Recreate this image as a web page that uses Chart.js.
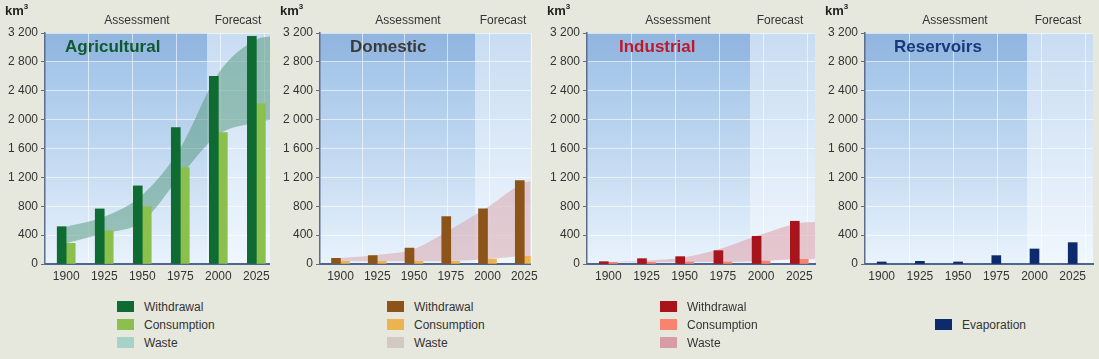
<!DOCTYPE html>
<html><head><meta charset="utf-8">
<script src="https://cdn.jsdelivr.net/npm/chart.js@4.4.1/dist/chart.umd.min.js"></script>
<style>
html,body{margin:0;padding:0;background:#e7e8dd;width:1099px;height:359px;overflow:hidden;font-family:"Liberation Sans",Arial,sans-serif;}
canvas{position:absolute;top:0;}
.t{position:absolute;white-space:nowrap;color:#333;font-size:12px;line-height:14px;}
.km{font-weight:bold;font-size:13px;color:#222;}
.km sup{font-size:8px;vertical-align:6px;line-height:0;}
.ttl{font-weight:bold;font-size:17px;line-height:20px;}
.lg{position:absolute;white-space:nowrap;font-size:12px;color:#333;line-height:14px;}
.lg i{position:absolute;left:0;top:1px;width:17px;height:11px;}
.lg span{position:absolute;left:27px;top:0;}
</style></head><body>
<script>
// ---------- data ----------
const years = ['1900', '1925', '1950', '1975', '2000', '2025'];
const yTickValues = [0, 400, 800, 1200, 1600, 2000, 2400, 2800, 3200];

const agriWithdrawal  = [517, 763, 1082, 1891, 2599, 3154];
const agriConsumption = [286, 462, 795, 1336, 1822, 2219];
// waste band: values at each year, last value at the right edge of the plot
const agriWasteTop    = [517, 656, 957, 1605, 2640, 3110, 3150];
const agriWasteBottom = [286, 425, 587, 1211, 1789, 1960, 2000];

const domWithdrawal  = [79, 116, 222, 656, 763, 1156];
const domConsumption = [37, 37, 37, 37, 65, 106];
const domWasteTop    = [83, 125, 208, 481, 786, 1130, 1150];
const domWasteBottom = [37, 37, 37, 40, 65, 106, 106];

const indWithdrawal  = [32, 74, 102, 185, 384, 592];
const indConsumption = [23, 23, 28, 28, 42, 65];
const indWasteTop    = [28, 46, 92, 222, 407, 569, 582];
const indWasteBottom = [23, 23, 28, 28, 42, 65, 65];

const resEvaporation = [28, 37, 28, 116, 208, 296];

// ---------- layout / style ----------
const STEP = 38.2;     // px per category
const GRIDW = 44;      // px per background grid column
const fmt = v => String(v).replace(/\B(?=(\d{3})+(?!\d))/g, ' ');

const panels = [
  {name:'Agricultural', color:'#0e5a2e', axisX:45, plotW:226, split:162, first:21.3, titleX:20, assessX:92, foreX:193,
   bars:[agriWithdrawal, agriConsumption], barColors:['#0e6b32','#8cc04c'],
   band:[agriWasteTop, agriWasteBottom], bandColor:'rgba(80,150,120,0.5)',
   legend:[['Withdrawal','#0e6b32'],['Consumption','#8cc04c'],['Waste','#a6d2c8']], legendX:117},
  {name:'Domestic', color:'#3a3a3a', axisX:320, plotW:219, split:155, first:21.3, titleX:30, assessX:88, foreX:183,
   bars:[domWithdrawal, domConsumption], barColors:['#8c5418','#ecb450'],
   band:[domWasteTop, domWasteBottom], bandColor:'rgba(215,160,165,0.5)',
   legend:[['Withdrawal','#8c5418'],['Consumption','#ecb450'],['Waste','#d2cac0']], legendX:387},
  {name:'Industrial', color:'#c0182a', axisX:587, plotW:228, split:163, first:21.3, titleX:32, assessX:91, foreX:193,
   bars:[indWithdrawal, indConsumption], barColors:['#a8141c','#f88470'],
   band:[indWasteTop, indWasteBottom], bandColor:'rgba(220,150,160,0.5)',
   legend:[['Withdrawal','#a8141c'],['Consumption','#f88470'],['Waste','#d89ca4']], legendX:660},
  {name:'Reservoirs', color:'#183a7a', axisX:865, plotW:228, split:162, first:16.7, titleX:29, assessX:90, foreX:193,
   bars:[resEvaporation], barColors:['#0c2a6c'], band:null,
   legend:[[null,null],['Evaporation','#0c2a6c'],[null,null]], legendX:935},
];

const bgPlugin = {
  id:'bgp',
  beforeDraw(chart, args, o){
    const {ctx, chartArea:{left,top,right,bottom}} = chart;
    const split = left + o.split;
    const y2800 = chart.scales.y.getPixelForValue(2800);
    ctx.save();
    let g = ctx.createLinearGradient(0, top, 0, bottom);
    g.addColorStop(0, '#9cc0e7'); g.addColorStop(0.5, '#bfd7f0'); g.addColorStop(1, '#e9f3fc');
    ctx.fillStyle = g; ctx.fillRect(left, top, split - left, bottom - top);
    let g2 = ctx.createLinearGradient(0, top, 0, bottom);
    g2.addColorStop(0, '#c8dcf2'); g2.addColorStop(1, '#f0f7fd');
    ctx.fillStyle = g2; ctx.fillRect(split, top, right - split, bottom - top);
    ctx.fillStyle = 'rgba(110,150,205,0.25)';
    ctx.fillRect(left, top, split - left, y2800 - top);
    ctx.restore();
  }
};

const H = 290;
panels.forEach(p => {
  const cv = document.createElement('canvas');
  const cw = 45 + p.plotW + 4;
  cv.width = cw; cv.height = H;
  cv.style.left = (p.axisX - 45) + 'px';
  document.body.appendChild(cv);
  const xMin = -p.first / STEP;
  const xMax = xMin + p.plotW / STEP;
  const ds = [];
  p.bars.forEach((arr, k) => ds.push({
    type:'bar', data: arr.map((v,i)=>({x:i, y:v})), backgroundColor:p.barColors[k],
    barThickness:9, order:0, xAxisID:'x', yAxisID:'y'
  }));
  if (p.band) {
    const bx = i => (i < years.length ? i : xMax);
    ds.push({type:'line', data:p.band[0].map((v,i)=>({x:bx(i), y:v})), borderWidth:0, pointRadius:0,
      cubicInterpolationMode:'monotone', fill:false, order:2, xAxisID:'x', yAxisID:'y'});
    ds.push({type:'line', data:p.band[1].map((v,i)=>({x:bx(i), y:v})), borderWidth:0, pointRadius:0,
      cubicInterpolationMode:'monotone', fill:'-1', backgroundColor:p.bandColor, order:1, xAxisID:'x', yAxisID:'y'});
  }
  new Chart(cv, {
    type:'bar',
    data:{datasets:ds},
    options:{
      responsive:false, animation:false,
      layout:{padding:{top:33, right:4, bottom:2, left:0}},
      plugins:{legend:{display:false}, tooltip:{enabled:false}, bgp:{split:p.split}},
      scales:{
        xg:{type:'linear', position:'bottom', min:0, max:p.plotW/GRIDW, offset:false,
          afterBuildTicks: s => { s.ticks = [1,2,3,4,5].map(v=>({value:v})); },
          afterFit: s => { s.height = 0; },
          ticks:{display:false}, border:{display:false},
          grid:{color:'rgba(255,255,255,0.6)', lineWidth:1, drawTicks:false, offset:false}},
        x:{type:'linear', position:'bottom', min:xMin, max:xMax, offset:false,
          afterBuildTicks: s => { s.ticks = years.map((y,i)=>({value:i})); },
          afterFit: s => { s.height = 24; },
          ticks:{callback:(v)=>years[v], font:{size:12, family:'"Liberation Sans", Arial'}, color:'#333', padding:5, maxRotation:0, autoSkip:false},
          grid:{display:false, drawTicks:false, offset:false},
          border:{display:true, color:'#4d6590', width:2}},
        y:{type:'linear', min:0, max:3200,
          afterBuildTicks: s => { s.ticks = yTickValues.map(v=>({value:v})); },
          afterFit: s => { s.width = 45; },
          ticks:{callback:v=>fmt(v), font:{size:12, family:'"Liberation Sans", Arial'}, color:'#333', padding:3},
          grid:{color:'rgba(255,255,255,0.6)', lineWidth:1, tickColor:'#5d6d8a', tickLength:4},
          border:{display:true, color:'#5d6d8a', width:1.5}}
      }
    },
    plugins:[bgPlugin]
  });
  // texts
  const add = (html, cls, x, y, extra) => {
    const d = document.createElement('div'); d.className = 't ' + (cls||''); d.innerHTML = html;
    d.style.left = x + 'px'; d.style.top = y + 'px'; if (extra) Object.assign(d.style, extra);
    document.body.appendChild(d); return d;
  };
  add('km<sup>3</sup>', 'km', p.axisX - 40, 4);
  add('Assessment', '', p.axisX + p.assessX, 13, {transform:'translateX(-50%)'});
  add('Forecast', '', p.axisX + p.foreX, 13, {transform:'translateX(-50%)'});
  add(p.name, 'ttl', p.axisX + p.titleX, 37, {color:p.color});
  p.legend.forEach((it, r) => {
    if (!it[0]) return;
    const d = document.createElement('div'); d.className = 'lg';
    d.style.left = p.legendX + 'px'; d.style.top = (300 + r*18) + 'px';
    d.innerHTML = '<i style="background:' + it[1] + '"></i><span>' + it[0] + '</span>';
    document.body.appendChild(d);
  });
});
</script>
</body></html>
